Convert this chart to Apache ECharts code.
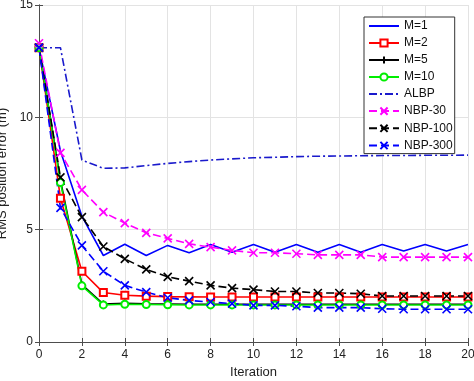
<!DOCTYPE html>
<html>
<head>
<meta charset="utf-8">
<script src="https://cdn.jsdelivr.net/npm/echarts@6/dist/echarts.min.js"></script>
<style>html,body{margin:0;padding:0;background:#fff}#c{width:474px;height:381px}</style>
</head>
<body>
<div id="c"></div>
<script>
const iterations = [0,1,2,3,4,5,6,7,8,9,10,11,12,13,14,15,16,17,18,19,20];
const m1   = [13.1, 8.5, 5.6, 3.85, 4.35, 3.85, 4.3, 3.97, 4.34, 4.0, 4.34, 4.0, 4.34, 4.0, 4.34, 4.0, 4.34, 4.05, 4.34, 4.05, 4.34];
const m2   = [13.1, 6.4, 3.15, 2.2, 2.08, 2.04, 2.02, 2.01, 2.0, 2.0, 2.0, 2.0, 2.0, 2.0, 2.0, 2.0, 2.0, 2.0, 2.0, 2.0, 2.0];
const m5   = [13.1, 7.2, 2.55, 1.69, 1.72, 1.7, 1.69, 1.68, 1.68, 1.68, 1.68, 1.68, 1.68, 1.68, 1.68, 1.68, 1.68, 1.68, 1.68, 1.68, 1.68];
const m10  = [13.1, 7.1, 2.5, 1.65, 1.68, 1.67, 1.66, 1.65, 1.65, 1.65, 1.65, 1.65, 1.65, 1.65, 1.65, 1.65, 1.65, 1.65, 1.65, 1.65, 1.65];
const albp = [13.1, 13.1, 8.1, 7.73, 7.75, 7.85, 7.95, 8.03, 8.1, 8.15, 8.2, 8.22, 8.25, 8.27, 8.28, 8.29, 8.3, 8.3, 8.31, 8.31, 8.32];
const nbp30  = [13.3, 8.42, 6.77, 5.78, 5.29, 4.86, 4.61, 4.37, 4.22, 4.08, 3.97, 3.97, 3.93, 3.88, 3.88, 3.88, 3.78, 3.78, 3.78, 3.78, 3.78];
const nbp100 = [13.1, 7.33, 5.56, 4.25, 3.7, 3.23, 2.9, 2.71, 2.52, 2.4, 2.33, 2.25, 2.25, 2.18, 2.18, 2.15, 2.05, 2.05, 2.05, 2.05, 2.05];
const nbp300 = [13.1, 5.97, 4.3, 3.15, 2.52, 2.22, 1.97, 1.85, 1.78, 1.71, 1.63, 1.63, 1.59, 1.53, 1.53, 1.53, 1.48, 1.46, 1.46, 1.46, 1.46];
const xTicks = [0,2,4,6,8,10,12,14,16,18,20];
const yTicks = [0,5,10,15];
const seriesNames = ['M=1','M=2','M=5','M=10','ALBP','NBP-30','NBP-100','NBP-300'];

const pts = arr => iterations.map((x,i)=>[x, arr[i]]);
const XSYM = 'path://M0,0L10,10M10,0L0,10';
const PSYM = 'path://M5,0L5,10M0,5L10,5';
const BLUE = '#0000ff';

function mk(name, data, color, opts) {
  const o = Object.assign({
    name, type:'line', data: pts(data), xAxisIndex:0, yAxisIndex:0,
    lineStyle:{color, width:1.6, type:'solid'},
    itemStyle:{color, borderColor:color, borderWidth:1.5},
    symbol:'none', symbolSize:7, showSymbol:true, animation:false, z:2
  }, opts||{});
  return o;
}

const series = [
  mk(seriesNames[0], m1, BLUE, {symbol:'none'}),
  mk(seriesNames[1], m2, '#ff0000', {symbol:'emptyRect', symbolSize:7, itemStyle:{color:'#ff0000', borderColor:'#ff0000', borderWidth:1.3}}),
  mk(seriesNames[2], m5, '#000000', {symbol:PSYM, symbolSize:7, itemStyle:{color:'#000000', borderColor:'#000000', borderWidth:1.5}}),
  mk(seriesNames[3], m10, '#00ee00', {symbol:'emptyCircle', symbolSize:7, itemStyle:{color:'#00ee00', borderColor:'#00ee00', borderWidth:1.3}}),
  mk(seriesNames[4], albp, BLUE, {lineStyle:{color:'#1a1acc', width:1.6, type:[8,3,2,3]}, itemStyle:{color:'#1a1acc'}}),
  mk(seriesNames[5], nbp30, '#ff00ff', {symbol:XSYM, symbolSize:8, lineStyle:{color:'#ff00ff', width:1.6, type:[8,4]}, itemStyle:{color:'none', borderColor:'#ff00ff', borderWidth:1.6}}),
  mk(seriesNames[6], nbp100, '#000000', {symbol:XSYM, symbolSize:8, lineStyle:{color:'#000000', width:1.6, type:[8,4]}, itemStyle:{color:'none', borderColor:'#000000', borderWidth:1.6}}),
  mk(seriesNames[7], nbp300, BLUE, {symbol:XSYM, symbolSize:8, lineStyle:{color:BLUE, width:1.6, type:[8,4]}, itemStyle:{color:'none', borderColor:BLUE, borderWidth:1.6}})
];

const legendData = seriesNames.map((n,i) => (i===0 || i===4) ? {name:n, itemStyle:{opacity:0}} : {name:n});

const axisCol = '#4d4d4d';
const chart = echarts.init(document.getElementById('c'), null, {renderer:'canvas'});
chart.setOption({
  backgroundColor:'#fff',
  animation:false,
  textStyle:{fontFamily:'Liberation Sans, Arial, sans-serif'},
  grid:{left:39, right:6, top:5, bottom:39, containLabel:false, outerBoundsMode:'none'},
  legend:{
    data: legendData, orient:'vertical', left:364, top:17,
    itemWidth:30, itemHeight:9, itemGap:5,
    borderColor:'#333', borderWidth:1, backgroundColor:'#fff', borderRadius:0,
    padding:[3,2,2,4],
    textStyle:{fontSize:12, color:'#111', fontFamily:'Liberation Sans, Arial, sans-serif'}
  },
  xAxis:[
    {type:'value', min:0, max:20, interval:2, position:'bottom',
     name:'Iteration', nameLocation:'middle', nameGap:22,
     nameTextStyle:{fontSize:13, color:'#222'},
     axisLine:{show:true, lineStyle:{color:axisCol, width:1}},
     axisTick:{show:true, inside:true, length:4, lineStyle:{color:axisCol}},
     axisLabel:{fontSize:12, color:'#222', margin:7, showMaxLabel:true},
     splitLine:{show:true, lineStyle:{color:'#e3e3e3', width:1}}},
    {type:'value', min:0, max:20, interval:2, position:'top',
     axisLine:{show:true, lineStyle:{color:axisCol, width:1}},
     axisTick:{show:true, inside:true, length:4, lineStyle:{color:axisCol}},
     axisLabel:{show:false}, splitLine:{show:false}}
  ],
  yAxis:[
    {type:'value', min:0, max:15, interval:5, position:'left',
     name:'RMS position error (m)', nameLocation:'middle', nameGap:29,
     nameTextStyle:{fontSize:13, color:'#222'},
     axisLine:{show:true, lineStyle:{color:axisCol, width:1}},
     axisTick:{show:true, inside:true, length:4, lineStyle:{color:axisCol}},
     axisLabel:{fontSize:12, color:'#222', margin:6},
     splitLine:{show:true, lineStyle:{color:'#e3e3e3', width:1}}},
    {type:'value', min:0, max:15, interval:5, position:'right',
     axisLine:{show:true, lineStyle:{color:axisCol, width:1}},
     axisTick:{show:true, inside:true, length:4, lineStyle:{color:axisCol}},
     axisLabel:{show:false}, splitLine:{show:false}}
  ],
  series
});
</script>
</body>
</html>
